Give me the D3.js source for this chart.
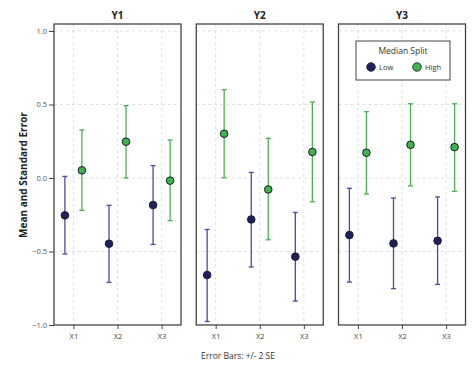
<!DOCTYPE html>
<html>
<head>
<meta charset="utf-8">
<script src="https://cdn.jsdelivr.net/npm/d3@7"></script>
<style>
  body { margin: 0; background: #fff; }
  text { font-family: "Open Sans", sans-serif; }
</style>
</head>
<body>
<svg id="svg" width="474" height="379"></svg>
<script>
// panels, categories, groups
const panels = ["Y1", "Y2", "Y3"]
const categories = ["X1", "X2", "X3"]
const groups = ["Low", "High"]
const yTicks = [1.0, 0.5, 0.0, -0.5, -1.0]

// mean, lower, upper per panel (rows) per category
const lowMean  = [[-0.254, -0.447, -0.184], [-0.660, -0.282, -0.535], [-0.388, -0.445, -0.427]]
const lowLo    = [[-0.517, -0.710, -0.452], [-0.976, -0.605, -0.837], [-0.708, -0.753, -0.724]]
const lowHi    = [[ 0.011, -0.186,  0.084], [-0.350,  0.038, -0.234], [-0.070, -0.136, -0.129]]
const highMean = [[ 0.052,  0.247, -0.018], [ 0.301, -0.078,  0.177], [ 0.172,  0.226,  0.210]]
const highLo   = [[-0.220,  0.000, -0.290], [ 0.002, -0.420, -0.161], [-0.109, -0.054, -0.091]]
const highHi   = [[ 0.327,  0.492,  0.258], [ 0.601,  0.270,  0.517], [ 0.451,  0.505,  0.505]]

const fill = {Low: "#20205e", High: "#3db54c"}
const barColor = {Low: "#4b4b9c", High: "#4caf55"}

const svg = d3.select("#svg")

const panelW = 127, panelTop = 24, panelBottom = 325
const panelX = d3.scalePoint().domain(panels).range([54, 338.5])

const y = d3.scaleLinear().domain([-1, 1]).range([325, 31])
const x = d3.scalePoint().domain(categories).range([0, panelW]).padding(0.44)
const offset = d3.scalePoint().domain(groups).range([-8.5, 8.5])

function rows(p) {
  const out = []
  categories.forEach((c, i) => {
    out.push({cat: c, g: "Low", m: lowMean[p][i], lo: lowLo[p][i], hi: lowHi[p][i]})
    out.push({cat: c, g: "High", m: highMean[p][i], lo: highLo[p][i], hi: highHi[p][i]})
  })
  return out
}

panels.forEach((name, p) => {
  const g = svg.append("g").attr("transform", `translate(${panelX(name)},0)`)

  // grid
  g.append("g").selectAll("line").data(yTicks.slice(0, 4)).join("line")
    .attr("x1", 0).attr("x2", panelW)
    .attr("y1", d => y(d)).attr("y2", d => y(d))
    .attr("stroke", "#e0e0e0").attr("stroke-dasharray", "3,3")
  g.append("g").selectAll("line").data(categories).join("line")
    .attr("x1", d => x(d)).attr("x2", d => x(d))
    .attr("y1", panelTop).attr("y2", panelBottom)
    .attr("stroke", "#e0e0e0").attr("stroke-dasharray", "3,3")

  // frame
  g.append("rect").attr("x", 0).attr("y", panelTop)
    .attr("width", panelW).attr("height", panelBottom - panelTop)
    .attr("fill", "none").attr("stroke", "#444").attr("stroke-width", 1.3)

  g.append("text").attr("x", panelW / 2).attr("y", 19)
    .attr("text-anchor", "middle").attr("font-size", 10).attr("font-weight", "bold")
    .attr("fill", "#222").text(name)

  // x axis
  const xa = g.append("g").attr("transform", `translate(0,${panelBottom})`)
    .call(d3.axisBottom(x).tickSize(4).tickPadding(5))
  xa.select(".domain").remove()
  xa.selectAll("line").attr("stroke", "#444")
  xa.selectAll("text").attr("font-size", 7.5).attr("fill", "#444")
    .style("font-family", "'Open Sans', sans-serif")

  if (p === 0) {
    const ya = g.append("g").call(d3.axisLeft(y).tickValues(yTicks).tickFormat(d3.format(".1f")).tickSize(5).tickPadding(2))
    ya.select(".domain").remove()
    ya.selectAll("line").attr("stroke", "#444")
    ya.selectAll("text").attr("font-size", 7.5).attr("fill", "#555")
      .style("font-family", "'Open Sans', sans-serif")
  }

  const data = rows(p)
  const cx = d => x(d.cat) + offset(d.g)

  const eb = g.append("g").selectAll("g").data(data).join("g")
    .attr("stroke", d => barColor[d.g]).attr("stroke-width", 1.3)
  eb.append("line").attr("x1", cx).attr("x2", cx)
    .attr("y1", d => y(d.lo)).attr("y2", d => y(d.hi))
  eb.append("line").attr("x1", d => cx(d) - 2.5).attr("x2", d => cx(d) + 2.5)
    .attr("y1", d => y(d.lo)).attr("y2", d => y(d.lo))
  eb.append("line").attr("x1", d => cx(d) - 2.5).attr("x2", d => cx(d) + 2.5)
    .attr("y1", d => y(d.hi)).attr("y2", d => y(d.hi))

  g.append("g").selectAll("circle").data(data).join("circle")
    .attr("cx", cx).attr("cy", d => y(d.m)).attr("r", 3.8)
    .attr("fill", d => fill[d.g]).attr("stroke", "#1a1a2a").attr("stroke-width", 1)
})

// y axis title
svg.append("text").attr("transform", "translate(27,175) rotate(-90)")
  .attr("text-anchor", "middle").attr("font-size", 10).attr("font-weight", "bold")
  .attr("fill", "#222").text("Mean and Standard Error")

svg.append("text").attr("x", 238).attr("y", 359)
  .attr("text-anchor", "middle").attr("font-size", 8.5).attr("fill", "#333")
  .text("Error Bars: +/- 2 SE")

// legend
const lg = svg.append("g").attr("transform", "translate(356,41)")
lg.append("rect").attr("width", 94).attr("height", 39)
  .attr("fill", "#fff").attr("stroke", "#444").attr("stroke-width", 1)
lg.append("text").attr("x", 47).attr("y", 13).attr("text-anchor", "middle")
  .attr("font-size", 8.5).attr("fill", "#333").text("Median Split")
const items = lg.selectAll("g.item").data(groups).join("g")
  .attr("transform", (d, i) => `translate(${15 + i * 46},26)`)
items.append("circle").attr("r", 4.3).attr("fill", d => fill[d])
  .attr("stroke", "#1a1a2a").attr("stroke-width", 0.8)
items.append("text").attr("x", 8).attr("dy", "0.35em")
  .attr("font-size", 7.5).attr("fill", "#333").text(d => d)
</script>
</body>
</html>
